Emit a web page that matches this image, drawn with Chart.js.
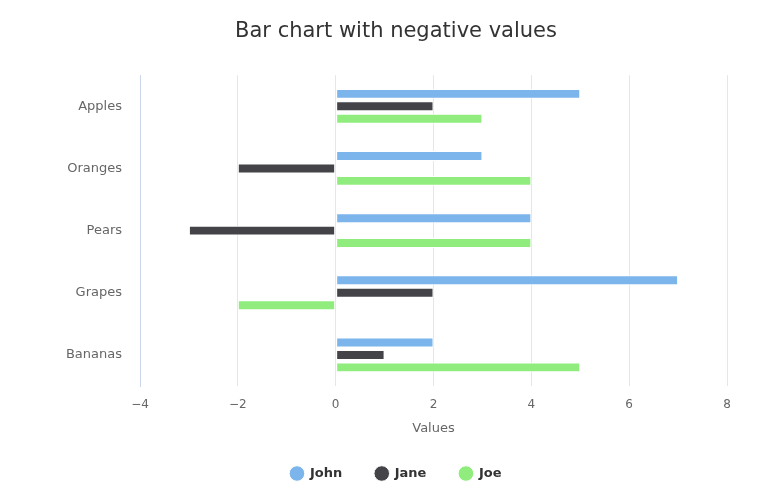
<!DOCTYPE html>
<html>
<head>
<meta charset="utf-8">
<script src="https://cdn.jsdelivr.net/npm/chart.js@4.4.0/dist/chart.umd.min.js"></script>
<style>
  html, body { margin: 0; padding: 0; background: #ffffff; }
  #wrap { width: 762px; height: 498px; }
</style>
</head>
<body>
<div id="wrap"><canvas id="chart" width="762" height="498"></canvas></div>
<script>
// categories and series
var fruits = ["Apples", "Oranges", "Pears", "Grapes", "Bananas"];
var johnValues = [5, 3, 4, 7, 2];
var janeValues = [2, -2, -3, 2, 1];
var joeValues = [3, 4, 4, -2, 5];

var FONT = "'DejaVu Sans', sans-serif";

function series(label, data, color) {
	return {
		label: label,
		data: data,
		backgroundColor: color,
		borderColor: "#ffffff",
		borderWidth: 1,
		borderSkipped: false,
		categoryPercentage: 0.6,
		barPercentage: 0.8
	};
}

var ctx = document.getElementById("chart").getContext("2d");
var chart = new Chart(ctx, {
	type: "bar",
	data: {
		labels: fruits,
		datasets: [
			series("John", johnValues, "#7cb5ec"),
			series("Jane", janeValues, "#434348"),
			series("Joe", joeValues, "#90ed7d")
		]
	},
	options: {
		indexAxis: "y",
		responsive: false,
		animation: false,
		layout: { padding: { left: 30, right: 0, top: 0, bottom: 8 } },
		plugins: {
			title: {
				display: true,
				text: "Bar chart with negative values",
				color: "#333333",
				font: { family: FONT, size: 21, weight: "normal" },
				padding: { top: 19, bottom: 31 }
			},
			legend: {
				position: "bottom",
				labels: {
					usePointStyle: true,
					pointStyle: "circle",
					boxWidth: 14,
					boxHeight: 11,
					padding: 33,
					color: "#333333",
					font: { family: FONT, size: 13, weight: "bold" }
				}
			},
			tooltip: { enabled: false }
		},
		scales: {
			x: {
				min: -4,
				max: 8,
				ticks: {
					stepSize: 2,
					color: "#666666",
					padding: 12,
					font: { family: FONT, size: 12 },
					callback: function(v) { return String(v).replace("-", "\u2212"); }
				},
				grid: { color: "#e6e6e6", lineWidth: 1, drawTicks: false },
				border: { display: false },
				title: {
					display: true,
					text: "Values",
					color: "#666666",
					font: { family: FONT, size: 13 },
					padding: { top: -4, bottom: -2 }
				}
			},
			y: {
				ticks: { color: "#666666", padding: 18, font: { family: FONT, size: 13 } },
				grid: { display: false, drawTicks: false },
				border: { display: true, color: "#ccd6eb", width: 1 },
				afterFit: function(scale) { scale.width = 110; }
			},
			yRight: {
				type: "category",
				axis: "y",
				position: "right",
				ticks: { display: false },
				grid: { display: false, drawTicks: false },
				border: { display: false },
				afterFit: function(scale) { scale.width = 35; }
			}
		}
	}
});
</script>
</body>
</html>
